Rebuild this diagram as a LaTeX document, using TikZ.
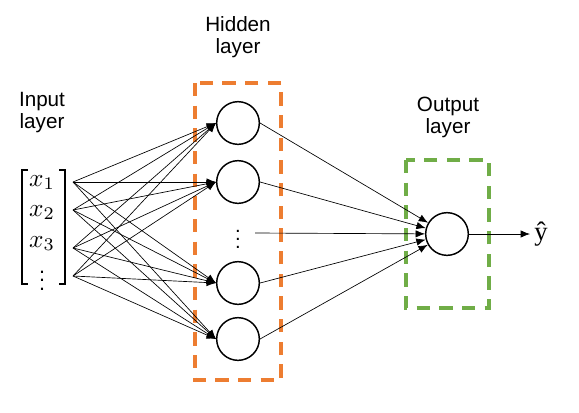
\documentclass[tikz,border=0pt]{standalone}
\usepackage{amsmath}
\usepackage{fontspec}
\setmainfont{Liberation Sans}
\newfontfamily\yfont{Liberation Serif}
\definecolor{boxorange}{RGB}{237,125,49}
\definecolor{boxgreen}{RGB}{112,173,71}
\usetikzlibrary{positioning,arrows.meta}

\begin{document}
\begin{tikzpicture}
		[x = 0.75pt, y = -0.75pt, >={Latex[length=7pt, width=5.5pt]},
		neuron/.style = {draw, circle, line width=1.1pt, minimum size=32pt, inner sep=0pt},
		link/.style = {->, line width=0.5pt},
		layerbox/.style = {line width=2.3pt, dash pattern=on 10pt off 7pt},
		caption/.style = {align=center, font=\fontsize{15.5}{16.5}\selectfont},
		entry/.style = {scale=1.9, inner sep=0pt}]
		\useasboundingbox (0, 0) rectangle (579, 412);
		% layer boxes
		\draw[layerbox, boxorange] (195, 83) rectangle (281, 380);
		\draw[layerbox, boxgreen] (406, 160) rectangle (489, 308);
		% captions
		\path	(42, 113) node[caption] (incap) {Input\\layer}
				(238, 37) node[caption] (hidcap) {Hidden\\layer}
				(448, 117) node[caption] (outcap) {Output\\layer};
		% input vector
		\path	(42, 186) node[entry, anchor=base] (x1) {$x_1$}
				(42, 216) node[entry, anchor=base] (x2) {$x_2$}
				(42, 247) node[entry, anchor=base] (x3) {$x_3$}
				(42, 274) node[entry, scale=0.85] (xd) {$\vdots$};
		\draw[line width=1.1pt] (28, 170) -- (22, 170) -- (22, 284) -- (28, 284);
		\draw[line width=1.1pt] (59, 170) -- (65, 170) -- (65, 284) -- (59, 284);
		\coordinate (in1) at (73, 182);
		\coordinate (in2) at (73, 210);
		\coordinate (in3) at (73, 248);
		\coordinate (in4) at (73, 276);
		% hidden layer
		\path	(238, 123) node[neuron] (h1) {}
				(238, 182) node[neuron] (h2) {}
				(238, 283) node[neuron] (h3) {}
				(238, 339) node[neuron] (h4) {};
		\node[entry, scale=0.8] (hd) at (238, 233) {$\vdots$};
		\coordinate (hdr) at (255, 233);
		% output layer
		\node[neuron] (out) at (447, 234) {};
		\coordinate (yend) at (530, 234);
		\node[font=\fontsize{20}{22}\selectfont\yfont, anchor=west, inner sep=0pt] (yhat) at (534, 234) {ŷ};
		% connections
		\foreach \i in {1,...,4}
			\foreach \j in {1,...,4}
				\draw[link] (in\i) -- (h\j.west);
		\foreach \j in {1,...,4}
			\draw[link] (h\j.east) -- (out);
		\draw[link] (hdr) -- (out);
		\draw[link] (out.east) -- (yend);
	\end{tikzpicture}
\end{document}
